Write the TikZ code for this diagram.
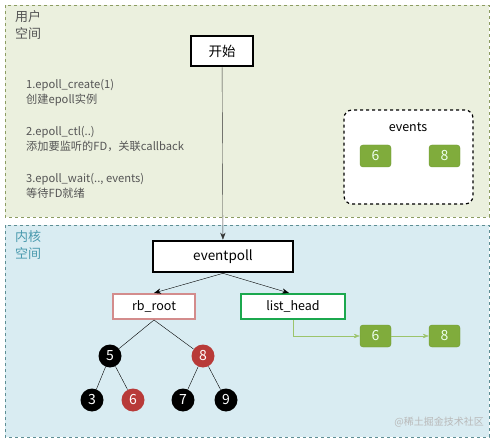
\documentclass[tikz,border=0pt]{standalone}
\usepackage{fontspec}
\setmainfont{Noto Sans CJK SC}
\usetikzlibrary{arrows.meta}
\definecolor{userfill}{HTML}{EBF0DE}
\definecolor{userline}{HTML}{8C9C62}
\definecolor{kernfill}{HTML}{D9ECF2}
\definecolor{kernline}{HTML}{5E8E94}
\definecolor{kerntext}{HTML}{4A9AAE}
\definecolor{rbline}{HTML}{D38C8C}
\definecolor{listline}{HTML}{1BA84E}
\definecolor{cellfill}{HTML}{80AC3C}
\definecolor{cellline}{HTML}{6E9830}
\definecolor{arrowgreen}{HTML}{9CC46C}
\definecolor{rbred}{HTML}{B83A38}
\definecolor{steptext}{HTML}{555555}
\tikzset{
  area/.style={draw, dashed, line width=0.8pt},
  mainbox/.style={draw=black, fill=white, line width=2.6pt, inner sep=0pt, font=\fontsize{13.5}{16}\selectfont},
  headbox/.style={fill=white, line width=2pt, inner sep=0pt, minimum height=25, font=\fontsize{12.5}{15}\selectfont},
  treenode/.style={circle, minimum size=23, inner sep=0pt, text=white, font=\fontsize{14}{16}\selectfont},
  cell/.style={draw=cellline, fill=cellfill, rounded corners=3pt, minimum width=31, minimum height=22, inner sep=0pt, text=white!92!green, font=\fontsize{14}{16}\selectfont},
  stepnote/.style={anchor=north west, align=left, text=steptext, inner sep=0pt, font=\fontsize{11.2}{15.5}\selectfont},
}
\begin{document}
\begin{tikzpicture}[x=1pt, y=-1pt]
    \useasboundingbox (0,0) rectangle (496,441);
    % user space
    \draw[area, draw=userline, fill=userfill] (5,5) rectangle (489,217);
    \node[anchor=north west, align=left, text=steptext, inner sep=0pt, font=\fontsize{13}{17}\selectfont] (userlabel) at (15,10) {用户\\空间};
    \node[stepnote] (create) at (26,79) {1.epoll\_create(1)\\创建epoll实例};
    \node[stepnote] (ctl) at (26,126) {2.epoll\_ctl(..)\\添加要监听的FD，关联callback};
    \node[stepnote] (wait) at (26,173) {3.epoll\_wait(.., events)\\等待FD就绪};
    \node[mainbox, minimum width=62, minimum height=30] (start) at (222,51) {开始};
    % events array
    \node[draw=black, dashed, line width=1.2pt, fill=white, rounded corners=8pt, minimum width=129, minimum height=94] (events) at (408.5,157) {};
    \node[font=\fontsize{12.5}{15}\selectfont, inner sep=0pt] (eventslabel) at (408,127) {events};
    \node[cell] (e6) at (375.5,156) {6};
    \node[cell] (e8) at (444.5,156) {8};
    % kernel space
    \draw[area, draw=kernline, fill=kernfill] (5,225) rectangle (489,437);
    \node[anchor=north west, align=left, text=kerntext, inner sep=0pt, font=\fontsize{13}{17}\selectfont] (kernlabel) at (15,230) {内核\\空间};
    \node[mainbox, minimum width=140, minimum height=31] (eventpoll) at (223,256.5) {eventpoll};
    \node[headbox, draw=rbline, minimum width=82] (rbroot) at (154,306.5) {rb\_root};
    \node[headbox, draw=listline, minimum width=104] (listhead) at (293,306.5) {list\_head};
    \draw[-{Stealth[length=7pt]}, thin, black!80] (start) -- (eventpoll);
    \draw[-{Stealth[length=7pt]}, thin] (eventpoll.south) -- (rbroot.north);
    \draw[-{Stealth[length=7pt]}, thin] (eventpoll.south) -- ([xshift=-4pt]listhead.north);
    % red-black tree
    \node[treenode, fill=black] (n5) at (110,356) {5};
    \node[treenode, fill=rbred] (n8) at (203,356) {8};
    \node[treenode, fill=black] (n3) at (92,400) {3};
    \node[treenode, fill=rbred] (n6) at (133,400) {6};
    \node[treenode, fill=black] (n7) at (183,400) {7};
    \node[treenode, fill=black] (n9) at (226,400) {9};
    \draw (rbroot.south) -- (n5);
    \draw (rbroot.south) -- (n8);
    \draw (n5) -- (n3);
    \draw (n5) -- (n6);
    \draw (n8) -- (n7);
    \draw (n8) -- (n9);
    % ready list
    \node[cell] (l6) at (375.5,336) {6};
    \node[cell] (l8) at (444.5,336) {8};
    \draw[arrowgreen, -{Stealth[length=6pt]}] (listhead.south) |- (l6.west);
    \draw[arrowgreen, -{Stealth[length=6pt]}] (l6) -- (l8);
    \node[anchor=east, text=gray!55, inner sep=0pt, font=\fontsize{10}{12}\selectfont] (mark) at (484,422) {@稀土掘金技术社区};
\end{tikzpicture}
\end{document}
